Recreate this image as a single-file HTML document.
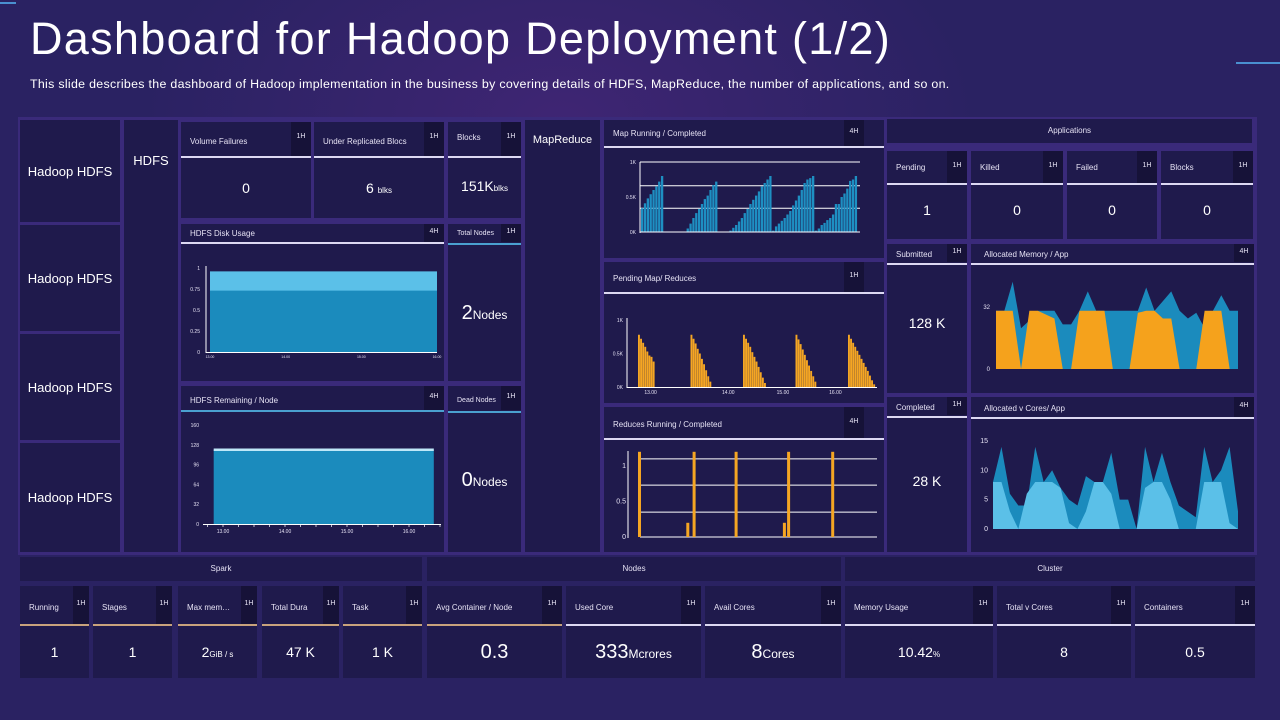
<!DOCTYPE html>
<html><head><meta charset="utf-8">
<style>
*{margin:0;padding:0;box-sizing:border-box}
body{width:1280px;height:720px;overflow:hidden;background:#2a2262;font-family:"Liberation Sans",sans-serif;color:#eeeaf8;position:relative}
#bgglow{position:absolute;left:0;top:0;width:1280px;height:720px;background:radial-gradient(ellipse 420px 260px at 560px 120px,rgba(80,40,130,.55),rgba(0,0,0,0))}
.blk{position:absolute;background:#3a2a7a}
.c{position:absolute;background:#1f1a4c}
.t{position:absolute;left:9px;font-size:8px;color:#e6e2f4;white-space:nowrap}
.b{position:absolute;right:0;top:0;width:20px;background:#161238;font-size:7px;text-align:center;color:#e6e2f4}
.l{position:absolute;left:0;right:0;height:1.5px;background:#dcd8f2}
.lo{background:#c8a27c}
.v{position:absolute;left:0;right:0;text-align:center;font-size:14px;color:#fff}
.v small{font-size:8px}
.big{font-size:20px}
.big small{font-size:12px}
.side{position:absolute;background:#1f1a4c;font-size:13px;color:#fff;display:flex;align-items:center;justify-content:center}
.sec{position:absolute;background:#1f1a4c;font-size:8px;color:#e6e2f4;text-align:center;line-height:24px}
svg{position:absolute;left:0;top:0}
</style></head><body>
<div id="bgglow"></div>
<div style="position:absolute;left:0;top:2px;width:16px;height:2px;background:#4a90d0"></div>
<div style="position:absolute;left:1236px;top:62px;width:44px;height:2px;background:#4a90d0"></div>
<div style="position:absolute;left:30px;top:13px;font-size:45px;color:#fff;white-space:nowrap;letter-spacing:1.3px">Dashboard for Hadoop Deployment (1/2)</div>
<div style="position:absolute;left:30px;top:77px;font-size:12.4px;color:#fff;white-space:nowrap;letter-spacing:0.3px">This slide describes the dashboard of Hadoop implementation in the business by covering details of HDFS, MapReduce, the number of applications, and so on.</div>

<div class="blk" style="left:18px;top:117px;width:1239px;height:438px"></div>

<div class="side" style="left:20px;top:120px;width:100px;height:102px">Hadoop HDFS</div>
<div class="side" style="left:20px;top:225px;width:100px;height:106px">Hadoop HDFS</div>
<div class="side" style="left:20px;top:334px;width:100px;height:106px">Hadoop HDFS</div>
<div class="side" style="left:20px;top:443px;width:100px;height:109px">Hadoop HDFS</div>
<div class="side" style="left:124px;top:120px;width:54px;height:432px;align-items:flex-start;padding-top:33px">HDFS</div>

<div class="c" style="left:181px;top:122px;width:130px;height:96px"><div class="t" style="top:15px">Volume Failures</div><div class="b" style="height:34px;line-height:30px">1H</div><div class="l" style="top:34px"></div><div class="v" style="top:58px">0</div></div>
<div class="c" style="left:314px;top:122px;width:130px;height:96px"><div class="t" style="top:15px">Under Replicated Blocs</div><div class="b" style="height:34px;line-height:30px">1H</div><div class="l" style="top:34px"></div><div class="v" style="top:58px">6 <small>blks</small></div></div>
<div class="c" style="left:448px;top:122px;width:73px;height:96px"><div class="t" style="top:11px">Blocks</div><div class="b" style="height:34px;line-height:30px">1H</div><div class="l" style="top:34px"></div><div class="v" style="top:56px">151K<small>blks</small></div></div>

<div class="c" style="left:181px;top:224px;width:263px;height:157px"><div class="t" style="top:5px">HDFS Disk Usage</div><div class="b" style="height:18px;line-height:16px">4H</div><div class="l" style="top:18px"></div></div>
<div class="c" style="left:448px;top:224px;width:73px;height:157px"><div class="t" style="top:6px;font-size:7px">Total Nodes</div><div class="b" style="height:18px;line-height:16px">1H</div><div class="l" style="top:19px;background:#4aa0d0"></div><div class="v big" style="top:78px">2<small>Nodes</small></div></div>
<div class="c" style="left:181px;top:386px;width:263px;height:166px"><div class="t" style="top:10px">HDFS Remaining / Node</div><div class="b" style="height:24px;line-height:22px">4H</div><div class="l" style="top:24px;background:#4aa0d0"></div></div>
<div class="c" style="left:448px;top:386px;width:73px;height:166px"><div class="t" style="top:11px;font-size:7px">Dead Nodes</div><div class="b" style="height:24px;line-height:22px">1H</div><div class="l" style="top:25px;background:#4aa0d0"></div><div class="v big" style="top:83px">0<small>Nodes</small></div></div>

<div class="side" style="left:525px;top:120px;width:75px;height:432px;align-items:flex-start;padding-top:14px;font-size:11px">MapReduce</div>

<div class="c" style="left:604px;top:120px;width:280px;height:138px"><div class="t" style="top:9px">Map Running / Completed</div><div class="b" style="height:26px;line-height:24px;right:20px">4H</div><div class="l" style="top:26px"></div></div>
<div class="c" style="left:604px;top:262px;width:280px;height:141px"><div class="t" style="top:12px">Pending Map/ Reduces</div><div class="b" style="height:30px;line-height:28px;right:20px">1H</div><div class="l" style="top:30px"></div></div>
<div class="c" style="left:604px;top:407px;width:280px;height:145px"><div class="t" style="top:13px">Reduces Running / Completed</div><div class="b" style="height:31px;line-height:29px;right:20px">4H</div><div class="l" style="top:31px"></div></div>

<div class="sec" style="left:887px;top:119px;width:365px;height:24px">Applications</div>
<div class="c" style="left:887px;top:151px;width:80px;height:88px"><div class="t" style="top:12px">Pending</div><div class="b" style="height:32px;line-height:30px">1H</div><div class="l" style="top:32px"></div><div class="v" style="top:51px">1</div></div>
<div class="c" style="left:971px;top:151px;width:92px;height:88px"><div class="t" style="top:12px">Killed</div><div class="b" style="height:32px;line-height:30px">1H</div><div class="l" style="top:32px"></div><div class="v" style="top:51px">0</div></div>
<div class="c" style="left:1067px;top:151px;width:90px;height:88px"><div class="t" style="top:12px">Failed</div><div class="b" style="height:32px;line-height:30px">1H</div><div class="l" style="top:32px"></div><div class="v" style="top:51px">0</div></div>
<div class="c" style="left:1161px;top:151px;width:92px;height:88px"><div class="t" style="top:12px">Blocks</div><div class="b" style="height:32px;line-height:30px">1H</div><div class="l" style="top:32px"></div><div class="v" style="top:51px">0</div></div>

<div class="c" style="left:887px;top:244px;width:80px;height:149px"><div class="t" style="top:6px">Submitted</div><div class="b" style="height:18px;line-height:16px">1H</div><div class="l" style="top:19px"></div><div class="v" style="top:71px">128 K</div></div>
<div class="c" style="left:971px;top:244px;width:283px;height:149px"><div class="t" style="top:6px;left:13px">Allocated Memory / App</div><div class="b" style="height:18px;line-height:16px">4H</div><div class="l" style="top:19px"></div></div>
<div class="c" style="left:887px;top:397px;width:80px;height:155px"><div class="t" style="top:6px">Completed</div><div class="b" style="height:18px;line-height:16px">1H</div><div class="l" style="top:19px"></div><div class="v" style="top:76px">28 K</div></div>
<div class="c" style="left:971px;top:397px;width:283px;height:155px"><div class="t" style="top:7px;left:13px">Allocated v Cores/ App</div><div class="b" style="height:20px;line-height:18px">4H</div><div class="l" style="top:20px"></div></div>

<div class="sec" style="left:20px;top:557px;width:402px;height:24px">Spark</div>
<div class="sec" style="left:427px;top:557px;width:414px;height:24px">Nodes</div>
<div class="sec" style="left:845px;top:557px;width:410px;height:24px">Cluster</div>

<div class="c" style="left:20px;top:586px;width:69px;height:92px"><div class="t" style="top:17px">Running</div><div class="b" style="height:38px;line-height:36px;width:16px">1H</div><div class="l lo" style="top:38px"></div><div class="v" style="top:58px">1</div></div>
<div class="c" style="left:93px;top:586px;width:79px;height:92px"><div class="t" style="top:17px">Stages</div><div class="b" style="height:38px;line-height:36px;width:16px">1H</div><div class="l lo" style="top:38px"></div><div class="v" style="top:58px">1</div></div>
<div class="c" style="left:178px;top:586px;width:79px;height:92px"><div class="t" style="top:17px">Max mem…</div><div class="b" style="height:38px;line-height:36px;width:16px">1H</div><div class="l lo" style="top:38px"></div><div class="v" style="top:58px">2<small>GiB / s</small></div></div>
<div class="c" style="left:262px;top:586px;width:77px;height:92px"><div class="t" style="top:17px">Total Dura</div><div class="b" style="height:38px;line-height:36px;width:16px">1H</div><div class="l lo" style="top:38px"></div><div class="v" style="top:58px">47 K</div></div>
<div class="c" style="left:343px;top:586px;width:79px;height:92px"><div class="t" style="top:17px">Task</div><div class="b" style="height:38px;line-height:36px;width:16px">1H</div><div class="l lo" style="top:38px"></div><div class="v" style="top:58px">1 K</div></div>
<div class="c" style="left:427px;top:586px;width:135px;height:92px"><div class="t" style="top:17px">Avg Container / Node</div><div class="b" style="height:38px;line-height:36px">1H</div><div class="l lo" style="top:38px"></div><div class="v big" style="top:55px">0.3</div></div>
<div class="c" style="left:566px;top:586px;width:135px;height:92px"><div class="t" style="top:17px">Used Core</div><div class="b" style="height:38px;line-height:36px">1H</div><div class="l" style="top:38px"></div><div class="v big" style="top:55px">333<small>Mcrores</small></div></div>
<div class="c" style="left:705px;top:586px;width:136px;height:92px"><div class="t" style="top:17px">Avail Cores</div><div class="b" style="height:38px;line-height:36px">1H</div><div class="l" style="top:38px"></div><div class="v big" style="top:55px">8<small>Cores</small></div></div>
<div class="c" style="left:845px;top:586px;width:148px;height:92px"><div class="t" style="top:17px">Memory Usage</div><div class="b" style="height:38px;line-height:36px">1H</div><div class="l" style="top:38px"></div><div class="v" style="top:58px">10.42<small>%</small></div></div>
<div class="c" style="left:997px;top:586px;width:134px;height:92px"><div class="t" style="top:17px">Total v Cores</div><div class="b" style="height:38px;line-height:36px">1H</div><div class="l" style="top:38px"></div><div class="v" style="top:58px">8</div></div>
<div class="c" style="left:1135px;top:586px;width:120px;height:92px"><div class="t" style="top:17px">Containers</div><div class="b" style="height:38px;line-height:36px">1H</div><div class="l" style="top:38px"></div><div class="v" style="top:58px">0.5</div></div>

<svg id="charts" width="1280" height="720"></svg>

<script>
const mapRunVals=[0.34,0.41,0.48,0.54,0.6,0.65,0.72,0.8,
0,0,0,0,0,0,0,0,
0.05,0.12,0.2,0.27,0.33,0.4,0.47,0.52,0.6,0.67,0.72,
0,0,0,0,
0.02,0.06,0.1,0.15,0.2,0.27,0.33,0.4,0.46,0.52,0.58,0.65,0.7,0.75,0.8,
0.02,0.08,0.12,0.16,0.2,0.25,0.3,0.38,0.45,0.52,0.6,0.7,0.75,0.77,0.8,
0.02,0.05,0.1,0.13,0.17,0.2,0.25,0.4,0.4,0.5,0.55,0.62,0.73,0.75,0.8];
const mapRunTicks=["1K","0.5K","0K"];
const mapRunTickVals=[1,0.5,0];
const mapRunGrid=[1,0.66,0.34];
const pendVals=[0.78,0.72,0.66,0.6,0.53,0.47,0.45,0.38,
0,0,0,0,0,0,0,0,0,0,0,0,0,0,0,0,0,
0.78,0.72,0.65,0.57,0.5,0.42,0.34,0.25,0.16,0.08,
0,0,0,0,0,0,0,0,0,0,0,0,0,0,0,
0.78,0.72,0.66,0.6,0.52,0.45,0.38,0.3,0.22,0.14,0.06,
0,0,0,0,0,0,0,0,0,0,0,0,0,0,
0.78,0.71,0.64,0.56,0.48,0.4,0.32,0.24,0.16,0.08,
0,0,0,0,0,0,0,0,0,0,0,0,0,0,0,
0.78,0.72,0.66,0.6,0.54,0.48,0.42,0.36,0.3,0.24,0.17,0.1,0.04];
const pendTicks=["1K","0.5K","0K"];
const pendTickVals=[1,0.5,0];
const pendXLabels=["13.00","14.00","15.00","16.00"];
const pendXSlots=[6,43,69,94];
const redSlots=[0,23,26,46,69,71,92];
const redVals=[1.2,0.2,1.2,1.2,0.2,1.2,1.2];
const redTicks=["1","0.5","0"];
const redTickVals=[1,0.5,0];
const redGrid=[1.1,0.73,0.35,0];
const diskTimes=[13,16];
const diskUsedVals=[0.73,0.73];
const diskTotalVals=[0.96,0.96];
const diskTicks=["1","0.75","0.5","0.25","0"];
const diskTickVals=[1,0.75,0.5,0.25,0];
const diskXLabels=["13.00","14.00","15.00","16.00"];
const remTimes=[12.85,16.4];
const remVals=[120,120];
const remTicks=["160","128","96","64","32","0"];
const remTickVals=[160,128,96,64,32,0];
const remXLabels=["13.00","14.00","15.00","16.00"];
const remXVals=[13,14,15,16];
const memBlue=[30,30,45,21,25,30,30,30,23,23,30,40,30,30,30,30,30,30,42,30,35,40,30,26,29,21,30,38,30,30];
const memOrange=[30,30,30,0,30,30,28,26,0,0,30,30,30,30,0,0,0,29,30,30,26,26,0,0,0,30,30,30,0,0];
const memTicks=["32","0"];
const memTickVals=[32,0];
const coreDark=[8,14,6,4,4,14,8,10,7,5,4,9,8,8,13,5,5,0,14,8,13,8,4,3,2,14,8,10,14,3];
const coreLight=[8,8,3,0,6,8,8,8,7,1,0,3,8,8,6,0,0,0,7,8,8,5,0,0,0,8,8,8,1,0];
const coreTicks=["15","10","5","0"];
const coreTickVals=[15,10,5,0];

const svg=document.getElementById('charts');
const NS='http://www.w3.org/2000/svg';
function mk(tag,attrs,parent){const e=document.createElementNS(NS,tag);for(const k in attrs)e.setAttribute(k,attrs[k]);(parent||svg).appendChild(e);return e;}
function txt(x,y,s,size,anchor,parent){const e=mk('text',{x:x,y:y,'font-size':size,fill:'#e6e2f4','text-anchor':anchor||'end','font-family':'Liberation Sans, sans-serif'},parent);e.textContent=s;return e;}

(function(){
 const g=mk('g',{});
 
 
 const y=v=>232-v*70, x=i=>641+i*2.85;
 mapRunGrid.forEach(v=>{const l=mk('line',{x1:640,x2:860,y1:y(v),y2:y(v),stroke:'#fff','stroke-width':1},g);});
 mapRunVals.forEach((v,i)=>{if(v<=0)return;const r=mk('rect',{x:x(i),y:y(v),width:2.3,height:v*70,fill:'#1e8fc2'},g);});
 mk('line',{x1:640,x2:640,y1:162,y2:233,stroke:'#fff','stroke-width':1},g);
 mk('line',{x1:640,x2:860,y1:232,y2:232,stroke:'#fff','stroke-width':1},g);
 mapRunTickVals.forEach((v,i)=>txt(636,y(v)+2,mapRunTicks[i],5,'end',g));
})();

(function(){
 const g=mk('g',{});
 
 
 const y=v=>387-v*67, x=i=>638+i*2.1;
 pendVals.forEach((v,i)=>{if(v<=0)return;const r=mk('rect',{x:x(i),y:y(v),width:1.9,height:v*67,fill:'#f5a623'},g);});
 mk('line',{x1:627,x2:627,y1:318,y2:388,stroke:'#fff','stroke-width':1},g);
 mk('line',{x1:627,x2:877,y1:387.5,y2:387.5,stroke:'#fff','stroke-width':1},g);
 pendTickVals.forEach((v,i)=>txt(623,y(v)+2,pendTicks[i],5,'end',g));
 pendXLabels.forEach((s,i)=>txt(x(pendXSlots[i]),394,s,5,'middle',g));
})();

(function(){
 const g=mk('g',{});
 
 
 const y=v=>537-v*71, x=i=>638+i*2.1;
 redGrid.forEach(v=>mk('line',{x1:640,x2:877,y1:y(v),y2:y(v),stroke:'#fff','stroke-width':1},g));
 redSlots.forEach((s,i)=>{const r=mk('rect',{x:x(s),y:y(redVals[i]),width:3,height:redVals[i]*71,fill:'#f5a623'},g);});
 mk('line',{x1:628,x2:628,y1:451,y2:538,stroke:'#fff','stroke-width':1},g);
 redTickVals.forEach((v,i)=>txt(626,y(v)+2,redTicks[i],7,'end',g));
})();

(function(){
 const g=mk('g',{});
 
 
 const y=v=>352-v*84, x=t=>210+(t-13)*(437-210)/3;
 const pt=(vals)=>diskTimes.map((t,i)=>x(t)+','+y(vals[i])).join(' ');
 const a1=mk('polygon',{points:x(diskTimes[0])+','+y(0)+' '+pt(diskTotalVals)+' '+x(diskTimes[diskTimes.length-1])+','+y(0),fill:'#5bc0e8'},g);
 
 const a2=mk('polygon',{points:x(diskTimes[0])+','+y(0)+' '+pt(diskUsedVals)+' '+x(diskTimes[diskTimes.length-1])+','+y(0),fill:'#1b8bbd'},g);
 
 mk('line',{x1:206,x2:206,y1:266,y2:353,stroke:'#fff','stroke-width':1},g);
 mk('line',{x1:206,x2:437,y1:352.5,y2:352.5,stroke:'#fff','stroke-width':1},g);
 diskTickVals.forEach((v,i)=>txt(200,y(v)+2,diskTicks[i],5,'end',g));
 diskXLabels.forEach((s,i)=>txt(x(13+i),358,s,3.5,'middle',g));
})();

(function(){
 const g=mk('g',{});
 
 
 const y=v=>524-v*(99/160), x=t=>223+(t-13)*62;
 const pts=remTimes.map((t,i)=>x(t)+','+y(remVals[i])).join(' ');
 const a=mk('polygon',{points:x(remTimes[0])+','+y(0)+' '+pts+' '+x(remTimes[remTimes.length-1])+','+y(0),fill:'#1b8bbd'},g);
 
 const l=mk('polyline',{points:pts,fill:'none',stroke:'#bfe8f8','stroke-width':2.5},g);
 
 mk('line',{x1:203,x2:441,y1:524.5,y2:524.5,stroke:'#fff','stroke-width':1},g);
 for(let t=12.75;t<=16.5;t+=0.25) mk('line',{x1:x(t),x2:x(t),y1:524,y2:527,stroke:'#fff','stroke-width':0.7},g);
 remTickVals.forEach((v,i)=>txt(199,y(v)+2,remTicks[i],5,'end',g));
 remXLabels.forEach((s,i)=>txt(x(remXVals[i]),533,s,5,'middle',g));
})();

(function(){
 const g=mk('g',{});
 
 
 const y=v=>369-v*1.94, x=i=>996+i*(1238-996)/(memBlue.length-1);
 const area=(vals)=>x(0)+','+y(0)+' '+vals.map((v,i)=>x(i)+','+y(v)).join(' ')+' '+x(vals.length-1)+','+y(0);
 const a=mk('polygon',{points:area(memBlue),fill:'#1b8bbd'},g);
 
 const b=mk('polygon',{points:area(memOrange),fill:'#f5a21c'},g);
 
 memTickVals.forEach((v,i)=>txt(990,y(v)+2,memTicks[i],6,'end',g));
})();

(function(){
 const g=mk('g',{});
 
 
 const y=v=>529-v*5.87, x=i=>993+i*(1238-993)/(coreDark.length-1);
 const area=(vals)=>x(0)+','+y(0)+' '+vals.map((v,i)=>x(i)+','+y(v)).join(' ')+' '+x(vals.length-1)+','+y(0);
 const a=mk('polygon',{points:area(coreDark),fill:'#1b8bbd'},g);
 
 const b=mk('polygon',{points:area(coreLight),fill:'#5bc0e8'},g);
 
 coreTickVals.forEach((v,i)=>txt(988,y(v)+2,coreTicks[i],7,'end',g));
})();
</script>
</body></html>
